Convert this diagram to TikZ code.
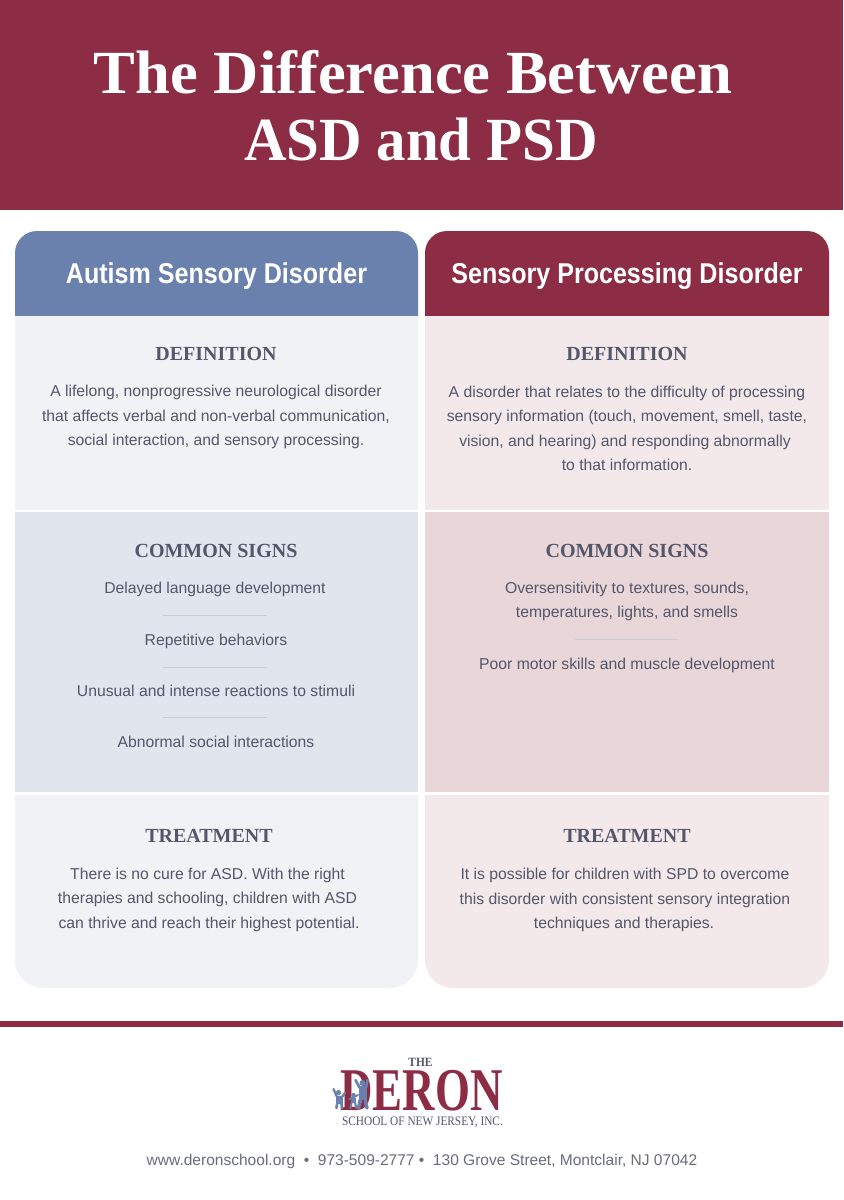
\documentclass[tikz,border=0pt]{standalone}
\usepackage{fontspec}
\setmainfont{Liberation Sans}
\newfontfamily\serifb{Liberation Serif}[BoldFont={Liberation Serif Bold}]
\definecolor{maroon}{HTML}{8D2C45}
\definecolor{bluehead}{HTML}{6A81AE}
\definecolor{lblue}{HTML}{F1F2F6}
\definecolor{mblue}{HTML}{E1E5EE}
\definecolor{lpink}{HTML}{F3E9EA}
\definecolor{mpink}{HTML}{E8D6D9}
\definecolor{ink}{HTML}{54566A}
\definecolor{foot}{HTML}{6A6C7A}
\definecolor{rulec}{HTML}{CFCDD3}
\tikzset{
  x=0.75pt,y=-0.75pt,
  title/.style={text=white,font=\serifb\bfseries\fontsize{46}{46}\selectfont,anchor=base,inner sep=0},
  head/.style={text=white,font=\bfseries\fontsize{21.5}{24}\selectfont,anchor=base,inner sep=0},
  sect/.style={text=ink,font=\serifb\bfseries\fontsize{15}{18}\selectfont,anchor=base,inner sep=0},
  body/.style={text=ink,font=\fontsize{11.8}{18.6}\selectfont,anchor=base,inner sep=0},
  sep/.style={draw=rulec,line width=0.5pt},
}
\begin{document}
\begin{tikzpicture}
\useasboundingbox (0,0) rectangle (843,1200);
\fill[white] (0,0) rectangle (843,1200);
\fill[maroon] (0,0) rectangle (843,210);
\node[title] (t1) at (413,93) {\scalebox{1.02}[1]{The Difference Between}};
\node[title] (t2) at (421,160) {\scalebox{0.96}[1]{ASD and PSD}};
% panels
\fill[bluehead] (15,316) -- (15,253) arc[start angle=180,end angle=270,radius=22] -- (396,231) arc[start angle=270,end angle=360,radius=22] -- (418,316) -- cycle;
\fill[maroon] (425,316) -- (425,253) arc[start angle=180,end angle=270,radius=22] -- (807,231) arc[start angle=270,end angle=360,radius=22] -- (829,316) -- cycle;
\fill[lblue] (15,316) rectangle (418,510);
\fill[lpink] (425,316) rectangle (829,510);
\fill[mblue] (15,512) rectangle (418,792);
\fill[mpink] (425,512) rectangle (829,792);
\fill[lblue] (15,795) -- (418,795) -- (418,960) arc[start angle=0,end angle=90,radius=28] -- (43,988) arc[start angle=90,end angle=180,radius=28] -- cycle;
\fill[lpink] (425,795) -- (829,795) -- (829,960) arc[start angle=0,end angle=90,radius=28] -- (453,988) arc[start angle=90,end angle=180,radius=28] -- cycle;
\node[head] (hl) at (216.5,283) {\scalebox{0.875}[1]{Autism Sensory Disorder}};
\node[head] (hr) at (627,283) {\scalebox{0.875}[1]{Sensory Processing Disorder}};
% left column
\node[sect] (dl) at (216,360.5) {DEFINITION};
\node[body] (dl1) at (216,396) {A lifelong, nonprogressive neurological disorder};
\node[body] (dl2) at (216,421) {that affects verbal and non-verbal communication,};
\node[body] (dl3) at (216,445) {social interaction, and sensory processing.};
\node[sect] (sl) at (216,557.5) {COMMON SIGNS};
\node[body] (sl1) at (215,593) {Delayed language development};
\draw[sep] (163,615.5) -- (267,615.5);
\node[body] (sl2) at (216,645) {Repetitive behaviors};
\draw[sep] (163,667.5) -- (267,667.5);
\node[body] (sl3) at (216,696) {Unusual and intense reactions to stimuli};
\draw[sep] (163,717.5) -- (267,717.5);
\node[body] (sl4) at (216,747) {Abnormal social interactions};
\node[sect] (tl) at (209,842.5) {TREATMENT};
\node[body] (tl1) at (207.5,879) {There is no cure for ASD. With the right};
\node[body] (tl2) at (207.5,903) {therapies and schooling, children with ASD};
\node[body] (tl3) at (209,928) {can thrive and reach their highest potential.};
% right column
\node[sect] (dr) at (627,360.5) {DEFINITION};
\node[body] (dr1) at (627,397) {A disorder that relates to the difficulty of processing};
\node[body] (dr2) at (627,421) {sensory information (touch, movement, smell, taste,};
\node[body] (dr3) at (625,446) {vision, and hearing) and responding abnormally};
\node[body] (dr4) at (627,470) {to that information.};
\node[sect] (sr) at (627,557.5) {COMMON SIGNS};
\node[body] (sr1) at (627,593) {Oversensitivity to textures, sounds,};
\node[body] (sr2) at (627,617) {temperatures, lights, and smells};
\draw[sep] (575,639.5) -- (679,639.5);
\node[body] (sr3) at (627,669) {Poor motor skills and muscle development};
\node[sect] (tr) at (627,842.5) {TREATMENT};
\node[body] (tr1) at (625,879) {It is possible for children with SPD to overcome};
\node[body] (tr2) at (625,904) {this disorder with consistent sensory integration};
\node[body] (tr3) at (624,928) {techniques and therapies.};
% footer
\fill[maroon] (0,1021) rectangle (843,1027);
% logo
\node[anchor=base,inner sep=0,text=ink,font=\serifb\bfseries\fontsize{9.5}{9}\selectfont] (lg1) at (420.5,1066) {\scalebox{0.9}[1]{THE}};
\node[anchor=base,inner sep=0,text=maroon,font=\serifb\bfseries\fontsize{45.5}{44}\selectfont] (lg2) at (421.5,1110) {\scalebox{0.74}[1]{DERON}};
\node[anchor=base,inner sep=0,text=ink,font=\serifb\fontsize{9.7}{10}\selectfont] (lg3) at (422.5,1125) {\scalebox{0.875}[1]{SCHOOL OF NEW JERSEY, INC.}};
\begin{scope}[bluehead,line cap=round,line join=round]
% left child
\fill (338.5,1092.5) circle[radius=2.6];
\draw[line width=1.7pt] (333.5,1089) -- (337,1097) -- (342,1097) -- (345,1093);
\fill (335.5,1096) rectangle (343,1104);
\draw[line width=2pt] (337,1104) -- (336.5,1108) (341.5,1104) -- (342,1108);
% small middle child
\fill (353.5,1095) circle[radius=2.2];
\draw[line width=1.4pt] (349.5,1099) -- (358,1095);
\fill (350.5,1098) rectangle (356,1103);
\draw[line width=1.6pt] (351.5,1103) -- (350.5,1108) (355,1103) -- (356.5,1108);
% tall adult
\fill (362.5,1083) circle[radius=3];
\draw[line width=2pt] (355.5,1080) -- (359.5,1087.5) -- (366,1087.5) -- (367.5,1080);
\fill (358.5,1087) rectangle (367,1099);
\draw[line width=2.6pt] (360.5,1099) -- (358.5,1108) (365,1099) -- (367,1108);
\end{scope}
\node[anchor=base,inner sep=0,text=foot,font=\fontsize{11.65}{14}\selectfont] (ft) at (422,1165) {www.deronschool.org \ • \ 973-509-2777 • \ 130 Grove Street, Montclair, NJ 07042};
\end{tikzpicture}
\end{document}
